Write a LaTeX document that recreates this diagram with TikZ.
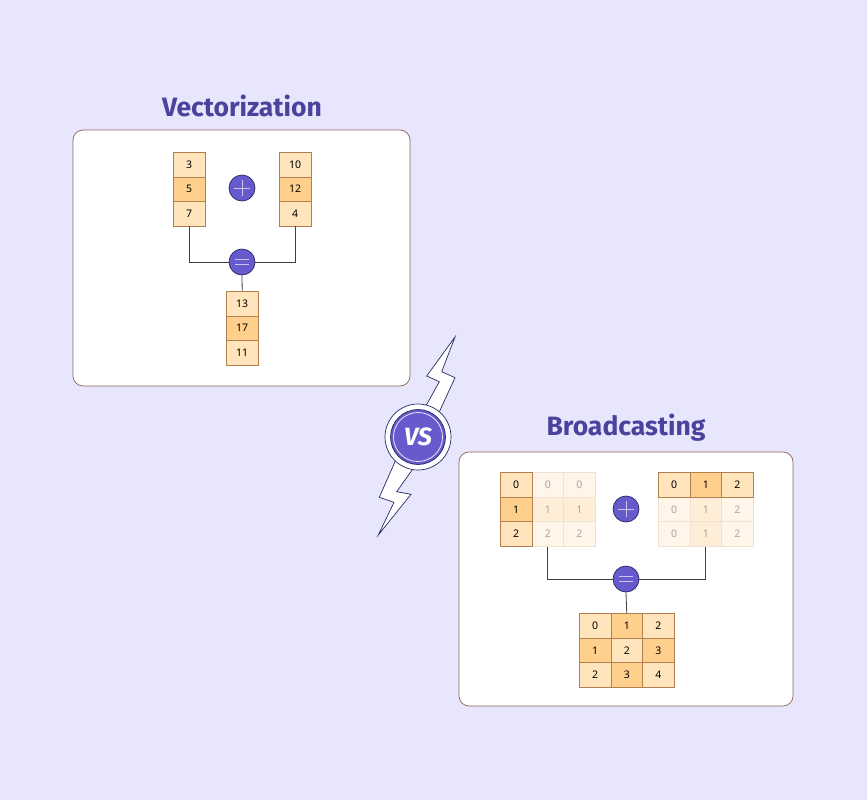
\documentclass[tikz,border=0pt]{standalone}
\usepackage{fontspec}
\setmainfont{Noto Sans}
\newfontfamily\headfont{Fira Sans}
\usetikzlibrary{positioning,calc}
\definecolor{vsbg}{RGB}{232,230,253}
\definecolor{vspurple}{RGB}{102,90,205}
\definecolor{vsnavy}{RGB}{38,40,100}
\definecolor{vstitle}{RGB}{74,66,156}
\definecolor{vslight}{RGB}{255,228,188}
\definecolor{vsdark}{RGB}{255,207,140}
\definecolor{vsedge}{RGB}{178,128,78}
\definecolor{vsframe}{RGB}{140,100,90}
\definecolor{vsfadelight}{RGB}{255,245,232}
\definecolor{vsfadedark}{RGB}{255,238,215}
\definecolor{vsfadeedge}{RGB}{240,226,208}

\tikzset{
  cell/.style={draw=vsedge, fill=vslight, minimum width=32pt, minimum height=24.5pt,
    inner sep=0pt, anchor=north west, font=\fontsize{10.5}{10.5}\selectfont},
  darkcell/.style={cell, fill=vsdark},
  gcell/.style={cell, minimum width=31.7pt, minimum height=24.7pt},
  gdarkcell/.style={gcell, fill=vsdark},
  fadecell/.style={gcell, draw=vsfadeedge, fill=vsfadelight, text=black!35},
  fadedarkcell/.style={fadecell, fill=vsfadedark},
  op/.style={circle, fill=vspurple, draw=vsnavy, line width=0.7pt, minimum size=26pt, inner sep=0pt},
  panel/.style={draw=vsframe, fill=white, line width=0.7pt, rounded corners=10pt},
  heading/.style={font=\headfont\bfseries\fontsize{26.5}{26.5}\selectfont, text=vstitle},
  wire/.style={draw=black!75, line width=0.8pt},
  sign/.style={draw=white!65!vspurple, line width=0.8pt}
}

\begin{document}
\begin{tikzpicture}[x=1pt,y=-1pt]
  \fill[vsbg] (0,0) rectangle (867,800);
  \useasboundingbox (0,0) rectangle (867,800);

  % Vectorization panel
  \draw[panel] (73,130) rectangle (410,386);
  \node[heading] (vectitle) at (242,106) {Vectorization};
  \foreach \v/\s [count=\i] in {3/cell,5/darkcell,7/cell}
    \node[\s] (a\i) at (173,{152+24.5*(\i-1)}) {\v};
  \foreach \v/\s [count=\i] in {10/cell,12/darkcell,4/cell}
    \node[\s] (b\i) at (279,{152+24.5*(\i-1)}) {\v};
  \foreach \v/\s [count=\i] in {13/cell,17/darkcell,11/cell}
    \node[\s] (c\i) at (226,{291+24.5*(\i-1)}) {\v};
  \node[op] (plus) at (242,188) {};
  \draw[sign] ($(plus)+(-8,0)$) -- ($(plus)+(8,0)$) ($(plus)+(0,-8)$) -- ($(plus)+(0,8)$);
  \node[op] (eq) at (242,262) {};
  \draw[sign] ($(eq)+(-7,-2.5)$) -- ($(eq)+(7,-2.5)$) ($(eq)+(-7,2.5)$) -- ($(eq)+(7,2.5)$);
  \draw[wire] (a3.south) |- (eq.west);
  \draw[wire] (b3.south) |- (eq.east);
  \draw[wire] (eq.south) -- (c1.north);

  % Broadcasting panel
  \draw[panel] (459,452) rectangle (793,706);
  \node[heading] (brdtitle) at (626,428) {Broadcasting};
  \foreach \r in {0,1,2}{
    \foreach \c in {1,2}{
      \ifnum\r=1 \def\st{fadedarkcell}\else \def\st{fadecell}\fi
      \node[\st] (ma-\r-\c) at ({500+31.7*\c},{472+24.7*\r}) {\r};
    }
  }
  \foreach \r/\s in {0/gcell,1/gdarkcell,2/gcell}
    \node[\s] (ma-\r-0) at (500,{472+24.7*\r}) {\r};
  \foreach \r in {1,2}{
    \foreach \c in {0,1,2}{
      \ifnum\c=1 \def\st{fadedarkcell}\else \def\st{fadecell}\fi
      \node[\st] (mb-\r-\c) at ({658+31.7*\c},{472+24.7*\r}) {\c};
    }
  }
  \foreach \c/\s in {0/gcell,1/gdarkcell,2/gcell}
    \node[\s] (mb-0-\c) at ({658+31.7*\c},472) {\c};
  \foreach \r in {0,1,2}{
    \foreach \c in {0,1,2}{
      \pgfmathtruncatemacro\sum{\r+\c}
      \pgfmathtruncatemacro\odd{mod(\sum,2)}
      \ifnum\odd=1 \def\st{gdarkcell}\else \def\st{gcell}\fi
      \node[\st] (mr-\r-\c) at ({579+31.7*\c},{613+24.7*\r}) {\sum};
    }
  }
  \node[op] (plus2) at (626,509) {};
  \draw[sign] ($(plus2)+(-8,0)$) -- ($(plus2)+(8,0)$) ($(plus2)+(0,-8)$) -- ($(plus2)+(0,8)$);
  \node[op] (eq2) at (626,579) {};
  \draw[sign] ($(eq2)+(-7,-2.5)$) -- ($(eq2)+(7,-2.5)$) ($(eq2)+(-7,2.5)$) -- ($(eq2)+(7,2.5)$);
  \draw[wire] (ma-2-1.south) |- (eq2.west);
  \draw[wire] (mb-2-1.south) |- (eq2.east);
  \draw[wire] (eq2.south) -- (mr-0-1.north);

  % lightning and VS badge
  \draw[vsnavy, fill=white, line width=0.7pt, line join=miter]
    (455,337) -- (441.7,371.7) -- (455,377.7) -- (413.3,468.3) -- (396.7,491.7)
    -- (411,494.3) -- (378.3,535) -- (394,502.3) -- (379.3,497.3) -- (395,461.7)
    -- (439.3,381.7) -- (426.7,376) -- cycle;
  \node[circle, fill=white, draw=vsnavy, line width=0.7pt, minimum size=66pt, inner sep=0pt] (vsring) at (418,437) {};
  \node[circle, fill=vspurple, draw=vsnavy, line width=0.7pt, minimum size=55pt, inner sep=0pt] (vsdisc) at (vsring) {};
  \node[circle, draw=white!85!vspurple, line width=0.8pt, minimum size=49pt, inner sep=0pt,
    text=white, font=\headfont\bfseries\itshape\fontsize{25}{25}\selectfont] (vs) at (vsring) {VS};
\end{tikzpicture}
\end{document}
